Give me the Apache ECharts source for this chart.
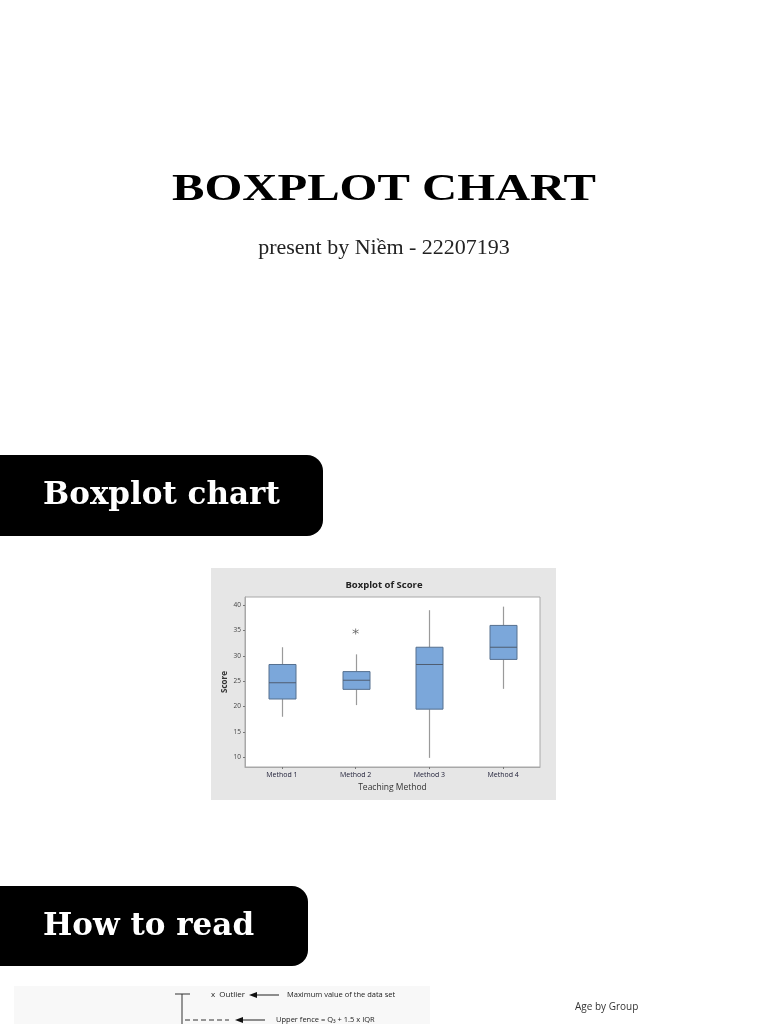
<!DOCTYPE html>
<html>
<head>
<meta charset="utf-8">
<script src="https://cdn.jsdelivr.net/npm/echarts@6/dist/echarts.min.js"></script>
<style>
html,body{margin:0;padding:0;background:#fff;}
#c{width:768px;height:1024px;}
</style>
</head>
<body>
<div id="c"></div>
<script>
// ---- data ----
const categories = ['Method 1', 'Method 2', 'Method 3', 'Method 4'];
// [min whisker, Q1, median, Q3, max whisker]
const boxValues = [
  [18.0, 21.5, 24.7, 28.3, 31.7],
  [20.3, 23.4, 25.2, 26.9, 30.3],
  [9.9, 19.5, 28.3, 31.7, 39.0],
  [23.5, 29.3, 31.7, 36.0, 39.7]
];
const outlierCategories = ['Method 2'];
const outlierValues = [34.8];
const yTickLabels = ['10', '15', '20', '25', '30', '35', '40'];

const chart = echarts.init(document.getElementById('c'), null, {renderer: 'canvas'});
const sans = '"Open Sans", "DejaVu Sans", sans-serif';
const serif = '"Liberation Serif", serif';

const boxData = boxValues.map((v, i) => [i].concat(v));

function renderBox(params, api) {
  const x = api.value(0);
  const pMin = api.coord([x, api.value(1)]);
  const pQ1 = api.coord([x, api.value(2)]);
  const pMed = api.coord([x, api.value(3)]);
  const pQ3 = api.coord([x, api.value(4)]);
  const pMax = api.coord([x, api.value(5)]);
  const w = 27;
  const cx = Math.round(pMed[0]) + 0.5;
  return {
    type: 'group',
    children: [
      {type: 'line', shape: {x1: cx, y1: pMax[1], x2: cx, y2: pQ3[1]}, style: {stroke: '#9a9a9a', lineWidth: 1.2}},
      {type: 'line', shape: {x1: cx, y1: pQ1[1], x2: cx, y2: pMin[1]}, style: {stroke: '#9a9a9a', lineWidth: 1.2}},
      {type: 'rect', shape: {x: cx - w / 2, y: pQ3[1], width: w, height: pQ1[1] - pQ3[1]}, style: {fill: '#7BA7DA', stroke: '#56708f', lineWidth: 1}},
      {type: 'line', shape: {x1: cx - w / 2, y1: pMed[1], x2: cx + w / 2, y2: pMed[1]}, style: {stroke: '#4f5d70', lineWidth: 1}}
    ]
  };
}

chart.setOption({
  animation: false,
  backgroundColor: '#ffffff',
  grid: {left: 245, top: 597, width: 295, height: 170, show: true, backgroundColor: '#ffffff', borderColor: '#a8a8a8', borderWidth: 1},
  xAxis: {
    type: 'category', data: categories,
    axisLine: {show: true, lineStyle: {color: '#a8a8a8'}},
    axisTick: {show: true, alignWithLabel: true, length: 2, lineStyle: {color: '#777'}},
    axisLabel: {color: '#22223a', fontSize: 7, fontFamily: sans, margin: 4},
    name: 'Teaching Method', nameLocation: 'middle', nameGap: 16,
    nameTextStyle: {color: '#333', fontSize: 8.5, fontFamily: sans}
  },
  yAxis: {
    type: 'value', min: 8.1, max: 41.6, splitNumber: 7,
    axisLine: {show: true, lineStyle: {color: '#a8a8a8'}},
    axisTick: {show: true, length: 2, lineStyle: {color: '#777'}},
    splitLine: {show: false},
    axisLabel: {color: '#444', fontSize: 6.5, fontFamily: sans, margin: 4, showMinLabel: false, showMaxLabel: false,
      formatter: function (v) { const s = String(Math.round(v)); return yTickLabels.indexOf(s) >= 0 ? s : ''; }},
    name: 'Score', nameLocation: 'middle', nameGap: 16, nameRotate: 90,
    nameTextStyle: {color: '#333', fontSize: 8, fontFamily: sans, fontWeight: 'bold'}
  },
  series: [
    {
      type: 'custom', data: boxData, renderItem: renderBox,
      encode: {x: 0, y: [1, 2, 3, 4, 5]}
    },
    {
      type: 'scatter',
      data: outlierCategories.map((c, i) => [c, outlierValues[i]]),
      symbol: 'path://M0,-5L0,5M-4.3,-2.5L4.3,2.5M-4.3,2.5L4.3,-2.5',
      symbolSize: 6,
      itemStyle: {color: 'none', borderColor: '#666', borderWidth: 1}
    }
  ],
  graphic: [
    // chart panel background
    {type: 'rect', z: -10, shape: {x: 211, y: 568, width: 345, height: 232}, style: {fill: '#e6e6e6'}},
    {type: 'text', z: 10, x: 384, y: 585, style: {text: 'Boxplot of Score', fill: '#222', font: 'bold 9.5px ' + sans, textAlign: 'center', textVerticalAlign: 'middle'}},
    // page headings
    {type: 'text', x: 384, y: 190, scaleX: 1.28, style: {text: 'BOXPLOT CHART', fill: '#000', font: 'bold 38px ' + serif, textAlign: 'center', textVerticalAlign: 'middle'}},
    {type: 'text', x: 384, y: 248, style: {text: 'present by Niềm - 22207193', fill: '#222', font: '22px ' + serif, textAlign: 'center', textVerticalAlign: 'middle'}},
    {type: 'rect', shape: {x: -20, y: 455, width: 343, height: 81, r: 16}, style: {fill: '#000'}},
    {type: 'text', x: 43, y: 496, style: {text: 'Boxplot chart', fill: '#fff', font: 'bold 31px "DejaVu Serif", serif', textAlign: 'left', textVerticalAlign: 'middle'}},
    {type: 'rect', shape: {x: -20, y: 886, width: 328, height: 80, r: 16}, style: {fill: '#000'}},
    {type: 'text', x: 43, y: 927, style: {text: 'How to read', fill: '#fff', font: 'bold 31px "DejaVu Serif", serif', textAlign: 'left', textVerticalAlign: 'middle'}},
    // bottom "how to read" diagram
    {type: 'rect', z: -10, shape: {x: 14, y: 986, width: 416, height: 40}, style: {fill: '#f8f8f8'}},
    {type: 'line', shape: {x1: 175, y1: 994, x2: 190, y2: 994}, style: {stroke: '#333', lineWidth: 1}},
    {type: 'line', shape: {x1: 182, y1: 994, x2: 182, y2: 1024}, style: {stroke: '#333', lineWidth: 1}},
    {type: 'text', x: 211, y: 995, style: {text: 'x  Outlier', fill: '#222', font: '8px ' + sans, textVerticalAlign: 'middle'}},
    {type: 'line', shape: {x1: 254, y1: 995, x2: 279, y2: 995}, style: {stroke: '#222', lineWidth: 1}},
    {type: 'polygon', shape: {points: [[249, 995], [257, 992], [257, 998]]}, style: {fill: '#111'}},
    {type: 'text', x: 287, y: 995, style: {text: 'Maximum value of the data set', fill: '#222', font: '7.5px ' + sans, textVerticalAlign: 'middle'}},
    {type: 'line', shape: {x1: 185, y1: 1020, x2: 229, y2: 1020}, style: {stroke: '#333', lineWidth: 1, lineDash: [5, 3]}},
    {type: 'line', shape: {x1: 240, y1: 1020, x2: 265, y2: 1020}, style: {stroke: '#222', lineWidth: 1}},
    {type: 'polygon', shape: {points: [[235, 1020], [243, 1017], [243, 1023]]}, style: {fill: '#111'}},
    {type: 'text', x: 276, y: 1020, style: {text: 'Upper fence = Q\u2083 + 1.5 x IQR', fill: '#222', font: '7.5px ' + sans, textVerticalAlign: 'middle'}},
    {type: 'text', x: 575, y: 1007, style: {text: 'Age by Group', fill: '#333', font: '10px ' + sans, textVerticalAlign: 'middle'}}
  ]
});
</script>
</body>
</html>
